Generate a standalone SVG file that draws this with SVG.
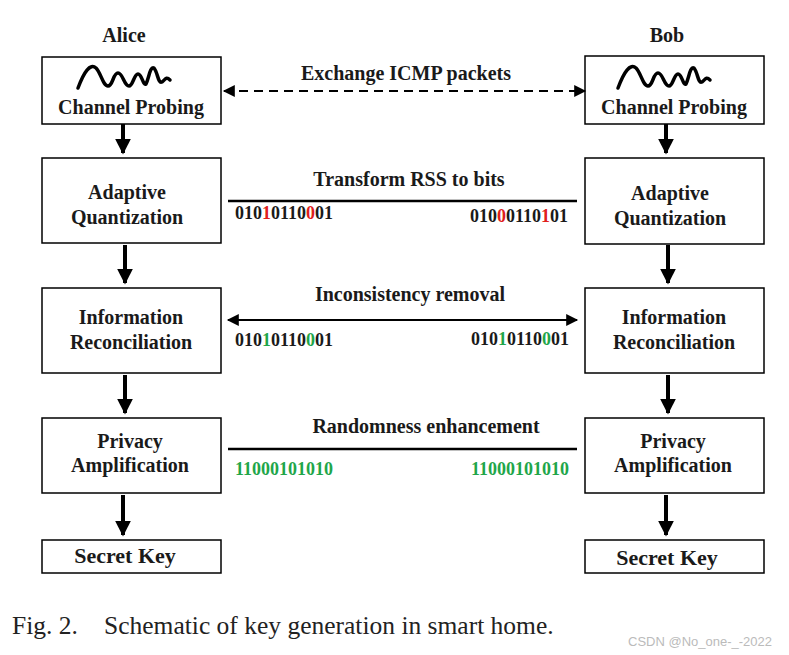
<svg xmlns="http://www.w3.org/2000/svg" width="789" height="655" viewBox="0 0 789 655">
<defs>
<style>
.b{fill:#fff;stroke:#000;stroke-width:1.5}
.t{font-family:"Liberation Serif",serif;font-weight:bold;font-size:20px;fill:#1a1a1a;text-anchor:middle}
.bits{font-family:"Liberation Serif",serif;font-weight:bold;font-size:18px;fill:#1a1a1a}
.r{fill:#e0201c}.g{fill:#1fa64a}
.v{stroke:#000;stroke-width:4;fill:none}
.w{fill:none;stroke:#000;stroke-width:3.5;stroke-linecap:round;stroke-linejoin:round}
</style>
<marker id="ah" viewBox="0 0 10 10" refX="9" refY="5" markerWidth="4" markerHeight="4" orient="auto-start-reverse"><path d="M0,0L10,5L0,10z" fill="#000"/></marker>
<marker id="sa" viewBox="0 0 10 10" refX="9" refY="5" markerWidth="8" markerHeight="6" orient="auto-start-reverse"><path d="M0,0L10,5L0,10z" fill="#000"/></marker>
<path id="wave" d="M0,24 C6,8 12,-1 18,4 C23,9 25,22 30,22 C35,22 35,9 40,9 C45,9 46,22 51,22 C55,22 56,10 60,10 C64,10 65,22 68,20 C71,14 72,2 76,4 C80,9 80,20 84,18 C87,16 88,12 92,16"/>
</defs>
<rect width="789" height="655" fill="#fff"/>
<text class="t" x="124" y="42">Alice</text>
<text class="t" x="667" y="42">Bob</text>
<g id="a1"><rect class="b" x="42" y="57" width="179" height="67"/>
<use href="#wave" class="w" x="78" y="64"/>
<text class="t" x="131" y="114">Channel Probing</text></g>
<g id="b1"><rect class="b" x="585" y="56" width="179" height="68"/>
<use href="#wave" class="w" x="618" y="64"/>
<text class="t" x="674" y="114">Channel Probing</text></g>
<g id="a2"><rect class="b" x="42" y="158" width="179" height="85"/><text class="t" x="127" y="199">Adaptive</text><text class="t" x="127" y="224">Quantization</text></g>
<g id="b2"><rect class="b" x="585" y="158" width="179" height="86"/><text class="t" x="670" y="200">Adaptive</text><text class="t" x="670" y="225">Quantization</text></g>
<g id="a3"><rect class="b" x="42" y="288" width="179" height="85"/><text class="t" x="131" y="324">Information</text><text class="t" x="131" y="349">Reconciliation</text></g>
<g id="b3"><rect class="b" x="585" y="288" width="179" height="85"/><text class="t" x="674" y="324">Information</text><text class="t" x="674" y="349">Reconciliation</text></g>
<g id="a4"><rect class="b" x="42" y="418" width="179" height="75"/><text class="t" x="130" y="448">Privacy</text><text class="t" x="130" y="472">Amplification</text></g>
<g id="b4"><rect class="b" x="585" y="418" width="179" height="75"/><text class="t" x="673" y="448">Privacy</text><text class="t" x="673" y="472">Amplification</text></g>
<g id="a5"><rect class="b" x="42" y="540" width="179" height="33"/><text class="t" x="125" y="563" style="font-size:22px">Secret Key</text></g>
<g id="b5"><rect class="b" x="585" y="540" width="179" height="33"/><text class="t" x="667" y="565" style="font-size:22px">Secret Key</text></g>
<g id="connectors">
<path class="v" d="M123,124V153" marker-end="url(#ah)"/>
<path class="v" d="M125,245V283" marker-end="url(#ah)"/>
<path class="v" d="M125,375V413" marker-end="url(#ah)"/>
<path class="v" d="M123,495V535" marker-end="url(#ah)"/>
<path class="v" d="M666,124V153" marker-end="url(#ah)"/>
<path class="v" d="M668,245V283" marker-end="url(#ah)"/>
<path class="v" d="M668,375V413" marker-end="url(#ah)"/>
<path class="v" d="M666,495V535" marker-end="url(#ah)"/>
<path d="M224,91H585" stroke="#000" stroke-width="2" stroke-dasharray="9,6" marker-start="url(#sa)" marker-end="url(#sa)"/>
<path d="M228,201H577" stroke="#000" stroke-width="2.5"/>
<path d="M228,320H577" stroke="#000" stroke-width="2" marker-start="url(#sa)" marker-end="url(#sa)"/>
<path d="M228,449H577" stroke="#000" stroke-width="2.5"/>
</g>
<text class="t" x="406" y="80">Exchange ICMP packets</text>
<text class="t" x="409" y="186">Transform RSS to bits</text>
<text class="t" x="410" y="301">Inconsistency removal</text>
<text class="t" x="426" y="433">Randomness enhancement</text>
<text class="bits" x="235" y="219">010<tspan class="r">1</tspan>0110<tspan class="r">0</tspan>01</text>
<text class="bits" x="470" y="222">010<tspan class="r">0</tspan>0110<tspan class="r">1</tspan>01</text>
<text class="bits" x="235" y="346">010<tspan class="g">1</tspan>0110<tspan class="g">0</tspan>01</text>
<text class="bits" x="471" y="345">010<tspan class="g">1</tspan>0110<tspan class="g">0</tspan>01</text>
<text class="bits g" x="235" y="475">11000101010</text>
<text class="bits g" x="471" y="475">11000101010</text>
<text x="12" y="634" style="font-family:'Liberation Serif',serif;font-size:25.5px;fill:#222">Fig. 2.<tspan x="104">Schematic of key generation in smart home.</tspan></text>
<text x="628" y="646" style="font-family:'Liberation Sans',sans-serif;font-size:13px;fill:#bbb">CSDN @No_one-_-2022</text>
</svg>
